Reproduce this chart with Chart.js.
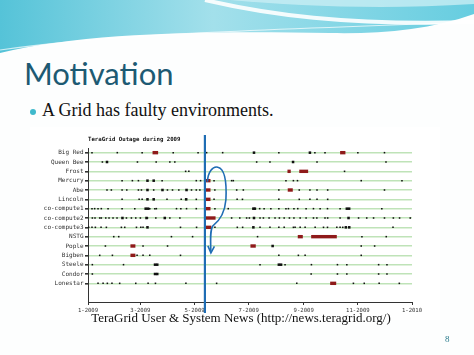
<!DOCTYPE html>
<html lang="en">
<head>
<meta charset="UTF-8">
<title>Motivation - TeraGrid Outage during 2009</title>
<script src="https://cdn.jsdelivr.net/npm/chart.js"></script>
<style>
  body { margin: 0; background: #fdfefe; }
  .slide { position: relative; width: 474px; height: 355px; overflow: hidden; background: #fdfefe; }
  .wave { position: absolute; left: 0; top: 0; }
  h1 { position: absolute; left: 24px; top: 54px; margin: 0; font: 31px Lato, 'Open Sans', sans-serif; color: #1d5a73; }
  .bullet { position: absolute; left: 42px; top: 100px; font: 18px 'Liberation Serif', serif; color: #111; }
  .bullet::before { content: ''; position: absolute; left: -12px; top: 9px; width: 6px; height: 6px; border-radius: 50%; background: #3fb9cc; }
  .chart-box { position: absolute; left: 30px; top: 127px; width: 410px; height: 193px; background: #fff; }
  .caption { position: absolute; left: 0; width: 482px; top: 310px; text-align: center; font: 13px 'Liberation Serif', serif; color: #111; }
  .page { position: absolute; left: 445px; top: 334px; font: 9px 'Liberation Serif', serif; color: #2a7b8c; }
</style>
</head>
<body>
<div class="slide">
  <svg class="wave" width="474" height="60">
    <defs>
      <linearGradient id="band" x1="0" x2="1" y1="0" y2="0">
        <stop offset="0" stop-color="#55c3d8"/>
        <stop offset="0.45" stop-color="#a3e0eb"/>
        <stop offset="1" stop-color="#66cde0"/>
      </linearGradient>
    </defs>
    <path d="M0 0 H474 V14 C430 30 380 34 330 33 C220 31 90 31 0 53 Z" fill="url(#band)"/>
    <path d="M205 0 C265 14 345 26 474 22" stroke="#ffffff" stroke-width="4" fill="none" opacity="0.9"/>
    <path d="M230 0 C300 6 380 10 474 4 V0 Z" fill="#c8eef4" opacity="0.8"/>
    <path d="M0 50 C110 34 260 30 474 22" stroke="#ffffff" stroke-width="1.2" fill="none" opacity="0.7"/>
  </svg>
  <h1>Motivation</h1>
  <div class="bullet">A Grid has faulty environments.</div>
  <div class="chart-box"><canvas id="outageChart" width="410" height="193"></canvas></div>
  <div class="caption">TeraGrid User &amp; System News (http://news.teragrid.org/)</div>
  <div class="page">8</div>
</div>

<script>
// hosts, top to bottom
const hosts = ['Big Red', 'Queen Bee', 'Frost', 'Mercury', 'Abe', 'Lincoln', 'co-compute1', 'co-compute2',
  'co-compute3', 'NSTG', 'Pople', 'Bigben', 'Steele', 'Condor', 'Lonestar'];

// x axis: day of 2009
const tickDays = [0, 59, 120, 181, 243, 304, 365];
const tickLabels = ['1-2009', '3-2009', '5-2009', '7-2009', '9-2009', '11-2009', '1-2010'];

// short outages (small marks), one list per host
const shortOutages = [
  [4.5, 33, 61, 96, 124, 133.6, 151.7, 215, 255.6, 267, 304, 334],
  [16.2, 55.7, 76.8, 92.2, 97.8, 190, 205, 258, 335.7],
  [110, 113.6, 289],
  [38.4, 50, 56.8, 83.5, 122, 126.8, 142, 161.8, 163.7, 223, 231.4, 236, 307.8, 353.7],
  [21.4, 26.3, 38.4, 43.7, 56.8, 60.2, 74, 89.5, 95.2, 102.3, 116.6, 122, 126, 142.9, 167.5, 175, 215, 238, 250, 258, 270, 334],
  [38.4, 57.6, 61, 89, 105, 122, 142, 168, 174, 215, 238, 250, 258, 270],
  [4.5, 7.5, 11.3, 15, 22.6, 38.4, 52.7, 69.6, 75.3, 77, 99.7, 104.6, 111, 122, 143, 158, 193.4, 198.4, 206, 215, 223, 225.8, 232, 236.3, 245.7, 254, 261.5, 269.8, 284, 331],
  [4.9, 7.9, 13.2, 15, 20, 23.7, 28.2, 32.7, 43.3, 48.9, 53.8, 59, 67, 76.4, 92.2, 103.5, 161.8, 171, 178.7, 181.8, 193.8, 197.6, 204, 210.7, 215.6, 221, 226.9, 232, 239, 245.7, 254, 257.8, 267, 270, 284, 304.8, 314, 321.7, 334, 344, 351, 363],
  [0.75, 4.5, 8.3, 14.7, 20.7, 37.6, 41.4, 54.6, 59.5, 62, 104.2, 122.3, 143, 168.2, 174.2, 193.8, 205, 215, 221, 231.4, 233.3, 239, 244.6, 255.9, 265.3, 269.8, 280.3, 284, 287, 343.6],
  [29, 34.6, 94, 117.8, 191, 308.6, 336],
  [19.6, 62, 89.6, 307.8, 322.9],
  [13.2, 27.5, 55.3, 62, 69.6, 104.2, 215, 237, 244.6, 307.8],
  [4.9, 40, 193.8, 222, 251.7, 281, 291.6, 327.4, 336.8],
  [4.9, 251.4, 281, 291.6, 327.4, 336.8],
  [11.3, 17, 21.8, 27, 35.7, 53.8, 67.7, 76, 110.3, 144.9, 235.2, 299, 311.2, 328, 350.7]
];

// bigger marks
const mediumOutages = [
  [187, 250],
  [21.4, 231],
  [],
  [67, 74],
  [67, 83.9, 111],
  [67, 74, 110.6],
  [65, 67.7, 186.3, 188, 291.6, 294.2],
  [38.8, 65.9, 86.5, 187, 293.5],
  [67, 186.3, 290.5, 294.3],
  [],
  [208],
  [],
  [75.5, 78, 215, 217.5],
  [75.5, 78],
  []
];

// long outages [start, end], drawn as red bars
const longOutages = [
  [[72.7, 79], [284, 290]],
  [],
  [[224.7, 228.4], [238, 248]],
  [[132.5, 138]],
  [[132.5, 138], [225, 230.7]],
  [[132.5, 138]],
  [[132.5, 138]],
  [[132.8, 143.7]],
  [[132.5, 139]],
  [[236.3, 242], [251.4, 280.3]],
  [[47.8, 53.4], [183, 189]],
  [[47.8, 53.4]],
  [],
  [],
  [[272.8, 279.6]]
];

const cutDay = 131.7;  // the blue marker line

const toPoints = (lists) => lists.flatMap((days, row) => days.map(d => ({ x: d, y: row })));

const barSets = [];
longOutages.forEach((spans, row) => {
  spans.forEach(([a, b]) => {
    barSets.push({
      type: 'line',
      data: [{ x: a, y: row }, { x: b, y: row }],
      showLine: true,
      borderColor: '#8f1a1a',
      borderWidth: 3.4,
      borderCapStyle: 'butt',
      pointRadius: 0
    });
  });
});

const labelFont = { family: "'DejaVu Sans Mono', monospace", size: 6 };
const tickFont = { family: "'DejaVu Sans Mono', monospace", size: 5.6 };

// title + blue annotation
const decorations = {
  id: 'decorations',
  afterDraw(chart) {
    const ctx = chart.ctx;
    const xs = chart.scales.x, ys = chart.scales.y;
    const area = chart.chartArea;
    ctx.save();
    ctx.fillStyle = '#111';
    ctx.font = "bold 5.7px 'DejaVu Sans Mono', monospace";
    ctx.textBaseline = 'middle';
    ctx.fillText('TeraGrid Outage during 2009', area.left, 13);

    const lx = xs.getPixelForValue(cutDay);
    ctx.strokeStyle = '#1f6db4';
    ctx.lineWidth = 2.2;
    ctx.beginPath();
    ctx.moveTo(lx, 8);
    ctx.lineTo(lx, 186);
    ctx.stroke();

    const P = (dx, r) => [lx + dx, ys.getPixelForValue(r)];
    ctx.lineWidth = 1.6;
    ctx.beginPath();
    ctx.moveTo(...P(2.5, 3.11));
    ctx.bezierCurveTo(...P(3, 2.04), ...P(8, 1.4), ...P(13, 1.56));
    ctx.bezierCurveTo(...P(19, 1.72), ...P(22, 2.9), ...P(21, 5.05));
    ctx.bezierCurveTo(...P(20, 6.34), ...P(16, 7.2), ...P(8, 7.84));
    ctx.bezierCurveTo(...P(5, 8.27), ...P(5.5, 9.34), ...P(6, 10.63));
    ctx.stroke();
    ctx.beginPath();
    ctx.moveTo(...P(3, 9.99));
    ctx.lineTo(...P(6, 10.74));
    ctx.lineTo(...P(9.5, 10.04));
    ctx.stroke();
    ctx.restore();
  }
};

new Chart(document.getElementById('outageChart'), {
  type: 'scatter',
  data: {
    datasets: [
      ...barSets,
      {
        data: toPoints(shortOutages),
        pointStyle: 'rect',
        pointRadius: 1.1,
        borderWidth: 0,
        backgroundColor: '#111'
      },
      {
        data: toPoints(mediumOutages),
        pointStyle: 'rect',
        pointRadius: 1.8,
        borderWidth: 0,
        backgroundColor: '#111'
      }
    ]
  },
  options: {
    responsive: false,
    animation: false,
    events: [],
    layout: { padding: { left: 0, right: 28, top: 21, bottom: 0 } },
    plugins: { legend: { display: false }, tooltip: { enabled: false } },
    scales: {
      x: {
        type: 'linear',
        min: 0,
        max: 365,
        afterBuildTicks: s => { s.ticks = tickDays.map(v => ({ value: v })); },
        afterFit: s => { s.height = 18; },
        ticks: {
          autoSkip: false,
          maxRotation: 0,
          padding: 2,
          font: tickFont,
          color: '#333',
          callback: v => tickLabels[tickDays.indexOf(v)]
        },
        grid: { drawOnChartArea: false, drawTicks: true, tickLength: 3, color: '#333' },
        border: { color: '#333', width: 1 }
      },
      y: {
        type: 'linear',
        reverse: true,
        min: -0.5,
        max: 16,
        afterBuildTicks: s => { s.ticks = hosts.map((h, i) => ({ value: i })); },
        afterFit: s => { s.width = 58; },
        ticks: {
          autoSkip: false,
          padding: 1.5,
          font: labelFont,
          color: '#333',
          callback: v => hosts[v]
        },
        grid: { color: '#bfe3b8', lineWidth: 1.6, tickColor: '#333', tickLength: 3 },
        border: { color: '#333', width: 1 }
      }
    }
  },
  plugins: [decorations]
});
</script>
</body>
</html>
